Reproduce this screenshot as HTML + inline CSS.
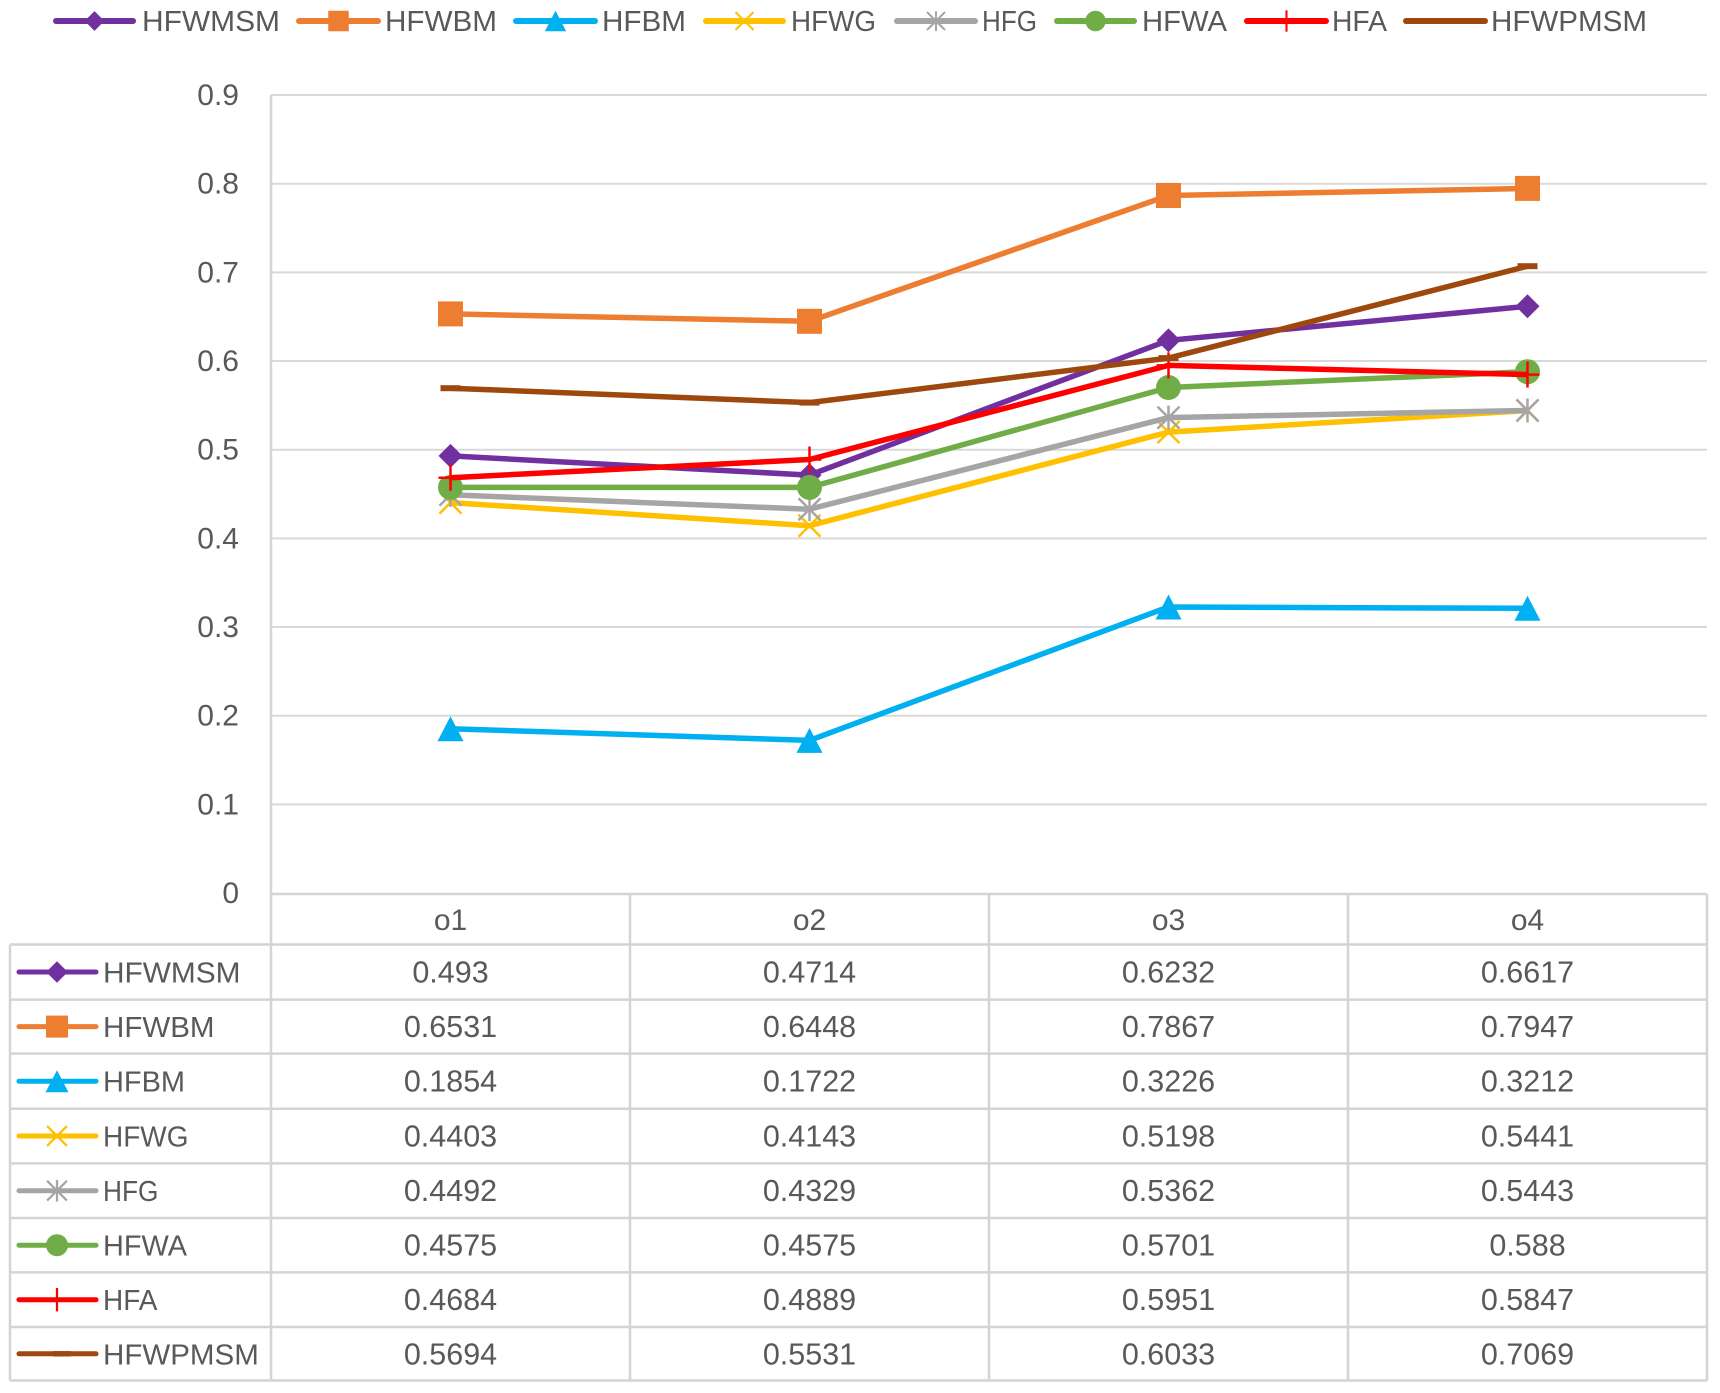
<!DOCTYPE html>
<html><head><meta charset="utf-8"><style>
html,body{margin:0;padding:0;background:#fff;}
svg{display:block;}
text{font-family:"Liberation Sans",Arial,sans-serif;fill:#595959;}
</style></head><body>
<svg width="1720" height="1393" viewBox="0 0 1720 1393" xmlns="http://www.w3.org/2000/svg">
<defs>
<polygon id="mD" points="0,-12 12,0 0,12 -12,0" fill="#7030A0"/>
<rect id="mS" x="-12.5" y="-12.5" width="25" height="25" fill="#ED7D31"/>
<polygon id="mT" points="0,-12.5 13,12.5 -13,12.5" fill="#00B0F0"/>
<g id="mX" stroke="#FFC000" stroke-width="2.5"><line x1="-11" y1="-11" x2="11" y2="11"/><line x1="-11" y1="11" x2="11" y2="-11"/></g>
<g id="mR" stroke="#A5A5A5" stroke-width="2.5"><line x1="-11" y1="-11" x2="11" y2="11"/><line x1="-11" y1="11" x2="11" y2="-11"/><line x1="0" y1="-12" x2="0" y2="12"/></g>
<circle id="mC" r="12.5" fill="#70AD47"/>
<g id="mP" stroke="#FF0000" stroke-width="2.5"><line x1="-12" y1="0" x2="12" y2="0"/><line x1="0" y1="-13" x2="0" y2="13"/></g>
<rect id="mB" x="-10" y="-3" width="20" height="6" fill="#9E480E"/>
</defs>

<!-- gridlines -->
<g stroke="#D9D9D9" stroke-width="2">
<line x1="271" y1="95" x2="1707" y2="95"/>
<line x1="271" y1="183.7" x2="1707" y2="183.7"/>
<line x1="271" y1="272.4" x2="1707" y2="272.4"/>
<line x1="271" y1="361" x2="1707" y2="361"/>
<line x1="271" y1="449.7" x2="1707" y2="449.7"/>
<line x1="271" y1="538.4" x2="1707" y2="538.4"/>
<line x1="271" y1="627" x2="1707" y2="627"/>
<line x1="271" y1="715.7" x2="1707" y2="715.7"/>
<line x1="271" y1="804.4" x2="1707" y2="804.4"/>
</g>

<!-- table lines -->
<g stroke="#D4D4D4" stroke-width="2.5">
<line x1="271" y1="894" x2="1707" y2="894"/>
<line x1="10" y1="944.5" x2="1707" y2="944.5"/>
<line x1="10" y1="999.6" x2="1707" y2="999.6"/>
<line x1="10" y1="1053.6" x2="1707" y2="1053.6"/>
<line x1="10" y1="1108.7" x2="1707" y2="1108.7"/>
<line x1="10" y1="1163.4" x2="1707" y2="1163.4"/>
<line x1="10" y1="1218" x2="1707" y2="1218"/>
<line x1="10" y1="1272.4" x2="1707" y2="1272.4"/>
<line x1="10" y1="1327" x2="1707" y2="1327"/>
<line x1="10" y1="1380.5" x2="1707" y2="1380.5"/>
<line x1="10" y1="944.5" x2="10" y2="1380.5"/>
<line x1="271" y1="95" x2="271" y2="1380.5"/>
<line x1="630" y1="894" x2="630" y2="1380.5"/>
<line x1="989" y1="894" x2="989" y2="1380.5"/>
<line x1="1348" y1="894" x2="1348" y2="1380.5"/>
<line x1="1707" y1="894" x2="1707" y2="1380.5"/>
</g>

<!-- y axis labels -->
<g font-size="30" text-anchor="end">
<text x="239" y="105">0.9</text>
<text x="239" y="193.7">0.8</text>
<text x="239" y="282.4">0.7</text>
<text x="239" y="371">0.6</text>
<text x="239" y="459.7">0.5</text>
<text x="239" y="548.4">0.4</text>
<text x="239" y="637">0.3</text>
<text x="239" y="725.7">0.2</text>
<text x="239" y="814.4">0.1</text>
<text x="239" y="903">0</text>
</g>

<!-- series -->
<g fill="none" stroke-width="5.5" stroke-linejoin="round" stroke-linecap="round">
<polyline stroke="#7030A0" points="450.5,455.9 809.5,475.1 1168.5,340.4 1527.5,306.3"/>
</g>
<use href="#mD" x="450.5" y="455.9"/><use href="#mD" x="809.5" y="475.1"/><use href="#mD" x="1168.5" y="340.4"/><use href="#mD" x="1527.5" y="306.3"/>
<polyline fill="none" stroke-width="5.5" stroke-linejoin="round" stroke="#ED7D31" points="450.5,313.9 809.5,321.3 1168.5,195.5 1527.5,188.4"/>
<use href="#mS" x="450.5" y="313.9"/><use href="#mS" x="809.5" y="321.3"/><use href="#mS" x="1168.5" y="195.5"/><use href="#mS" x="1527.5" y="188.4"/>
<polyline fill="none" stroke-width="5.5" stroke-linejoin="round" stroke="#00B0F0" points="450.5,728.7 809.5,740.4 1168.5,607 1527.5,608.3"/>
<use href="#mT" x="450.5" y="728.7"/><use href="#mT" x="809.5" y="740.4"/><use href="#mT" x="1168.5" y="607"/><use href="#mT" x="1527.5" y="608.3"/>
<polyline fill="none" stroke-width="5.5" stroke-linejoin="round" stroke="#FFC000" points="450.5,502.6 809.5,525.7 1168.5,432.1 1527.5,410.6"/>
<use href="#mX" x="450.5" y="502.6"/><use href="#mX" x="809.5" y="525.7"/><use href="#mX" x="1168.5" y="432.1"/><use href="#mX" x="1527.5" y="410.6"/>
<polyline fill="none" stroke-width="5.5" stroke-linejoin="round" stroke="#A5A5A5" points="450.5,494.8 809.5,509.2 1168.5,417.6 1527.5,410.4"/>
<use href="#mR" x="450.5" y="494.8"/><use href="#mR" x="809.5" y="509.2"/><use href="#mR" x="1168.5" y="417.6"/><use href="#mR" x="1527.5" y="410.4"/>
<polyline fill="none" stroke-width="5.5" stroke-linejoin="round" stroke="#70AD47" points="450.5,487.4 809.5,487.4 1168.5,387.5 1527.5,371.7"/>
<use href="#mC" x="450.5" y="487.4"/><use href="#mC" x="809.5" y="487.4"/><use href="#mC" x="1168.5" y="387.5"/><use href="#mC" x="1527.5" y="371.7"/>
<polyline fill="none" stroke-width="5.5" stroke-linejoin="round" stroke="#FF0000" points="450.5,477.7 809.5,459.5 1168.5,365.4 1527.5,374.6"/>
<use href="#mP" x="450.5" y="477.7"/><use href="#mP" x="809.5" y="459.5"/><use href="#mP" x="1168.5" y="365.4"/><use href="#mP" x="1527.5" y="374.6"/>
<polyline fill="none" stroke-width="5.5" stroke-linejoin="round" stroke-linecap="round" stroke="#9E480E" points="450.5,388.2 809.5,402.6 1168.5,358.1 1527.5,266.2"/>
<use href="#mB" x="450.5" y="388.2"/><use href="#mB" x="809.5" y="402.6"/><use href="#mB" x="1168.5" y="358.1"/><use href="#mB" x="1527.5" y="266.2"/>

<!-- top legend -->
<g stroke-width="6" stroke-linecap="round">
<line x1="56" y1="21" x2="133" y2="21" stroke="#7030A0"/>
<line x1="299" y1="21" x2="378" y2="21" stroke="#ED7D31"/>
<line x1="516" y1="21" x2="595" y2="21" stroke="#00B0F0"/>
<line x1="706" y1="21" x2="783" y2="21" stroke="#FFC000"/>
<line x1="897" y1="21" x2="975" y2="21" stroke="#A5A5A5"/>
<line x1="1057" y1="21" x2="1134" y2="21" stroke="#70AD47"/>
<line x1="1247" y1="21" x2="1326" y2="21" stroke="#FF0000"/>
<line x1="1406" y1="21" x2="1485" y2="21" stroke="#9E480E"/>
</g>
<use href="#mD" transform="translate(94.5,21) scale(0.82)"/>
<use href="#mS" transform="translate(338.5,21) scale(0.82)"/>
<use href="#mT" transform="translate(555.5,21) scale(0.82)"/>
<use href="#mX" transform="translate(744.5,21) scale(0.82)"/>
<use href="#mR" transform="translate(936,21) scale(0.82)"/>
<use href="#mC" transform="translate(1095.5,21) scale(0.82)"/>
<use href="#mP" transform="translate(1286.5,21) scale(0.82)"/>
<g font-size="29" lengthAdjust="spacingAndGlyphs">
<text x="142" y="31" textLength="138" lengthAdjust="spacingAndGlyphs">HFWMSM</text>
<text x="385" y="31" textLength="112" lengthAdjust="spacingAndGlyphs">HFWBM</text>
<text x="602" y="31" textLength="84" lengthAdjust="spacingAndGlyphs">HFBM</text>
<text x="791" y="31" textLength="85" lengthAdjust="spacingAndGlyphs">HFWG</text>
<text x="982" y="31" textLength="55" lengthAdjust="spacingAndGlyphs">HFG</text>
<text x="1142" y="31" textLength="85" lengthAdjust="spacingAndGlyphs">HFWA</text>
<text x="1332" y="31" textLength="55" lengthAdjust="spacingAndGlyphs">HFA</text>
<text x="1491" y="31" textLength="156" lengthAdjust="spacingAndGlyphs">HFWPMSM</text>
</g>

<!-- table header -->
<g font-size="30" text-anchor="middle">
<text x="450.5" y="930">o1</text>
<text x="809.5" y="930">o2</text>
<text x="1168.5" y="930">o3</text>
<text x="1527.5" y="930">o4</text>
</g>

<!-- table row legend keys -->
<g stroke-width="5" stroke-linecap="round">
<line x1="19" y1="972" x2="96" y2="972" stroke="#7030A0"/>
<line x1="19" y1="1026.6" x2="96" y2="1026.6" stroke="#ED7D31"/>
<line x1="19" y1="1081.2" x2="96" y2="1081.2" stroke="#00B0F0"/>
<line x1="19" y1="1136" x2="96" y2="1136" stroke="#FFC000"/>
<line x1="19" y1="1190.7" x2="96" y2="1190.7" stroke="#A5A5A5"/>
<line x1="19" y1="1245.2" x2="96" y2="1245.2" stroke="#70AD47"/>
<line x1="19" y1="1299.7" x2="96" y2="1299.7" stroke="#FF0000"/>
<line x1="19" y1="1353.8" x2="96" y2="1353.8" stroke="#9E480E"/>
</g>
<use href="#mD" transform="translate(57,972) scale(0.9)"/>
<use href="#mS" transform="translate(57,1026.6) scale(0.88)"/>
<use href="#mT" transform="translate(57,1081.2) scale(0.88)"/>
<use href="#mX" transform="translate(57,1136) scale(0.9)"/>
<use href="#mR" transform="translate(57,1190.7) scale(0.9)"/>
<use href="#mC" transform="translate(57,1245.2) scale(0.88)"/>
<use href="#mP" transform="translate(57,1299.7) scale(0.9)"/>
<use href="#mB" transform="translate(62,1353.8) scale(0.9)"/>
<g font-size="29">
<text x="103" y="982.5" textLength="137.5" lengthAdjust="spacingAndGlyphs">HFWMSM</text>
<text x="103" y="1037.1" textLength="111.5" lengthAdjust="spacingAndGlyphs">HFWBM</text>
<text x="103" y="1091.7" textLength="82" lengthAdjust="spacingAndGlyphs">HFBM</text>
<text x="103" y="1146.5" textLength="85.5" lengthAdjust="spacingAndGlyphs">HFWG</text>
<text x="103" y="1201.2" textLength="55.4" lengthAdjust="spacingAndGlyphs">HFG</text>
<text x="103" y="1255.7" textLength="84" lengthAdjust="spacingAndGlyphs">HFWA</text>
<text x="103" y="1310.2" textLength="54.4" lengthAdjust="spacingAndGlyphs">HFA</text>
<text x="103" y="1364.3" textLength="155.8" lengthAdjust="spacingAndGlyphs">HFWPMSM</text>
</g>

<!-- table values -->
<g font-size="30.5" text-anchor="middle">
<text x="450.5" y="982.5">0.493</text><text x="809.5" y="982.5">0.4714</text><text x="1168.5" y="982.5">0.6232</text><text x="1527.5" y="982.5">0.6617</text>
<text x="450.5" y="1037.1">0.6531</text><text x="809.5" y="1037.1">0.6448</text><text x="1168.5" y="1037.1">0.7867</text><text x="1527.5" y="1037.1">0.7947</text>
<text x="450.5" y="1091.7">0.1854</text><text x="809.5" y="1091.7">0.1722</text><text x="1168.5" y="1091.7">0.3226</text><text x="1527.5" y="1091.7">0.3212</text>
<text x="450.5" y="1146.5">0.4403</text><text x="809.5" y="1146.5">0.4143</text><text x="1168.5" y="1146.5">0.5198</text><text x="1527.5" y="1146.5">0.5441</text>
<text x="450.5" y="1201.2">0.4492</text><text x="809.5" y="1201.2">0.4329</text><text x="1168.5" y="1201.2">0.5362</text><text x="1527.5" y="1201.2">0.5443</text>
<text x="450.5" y="1255.7">0.4575</text><text x="809.5" y="1255.7">0.4575</text><text x="1168.5" y="1255.7">0.5701</text><text x="1527.5" y="1255.7">0.588</text>
<text x="450.5" y="1310.2">0.4684</text><text x="809.5" y="1310.2">0.4889</text><text x="1168.5" y="1310.2">0.5951</text><text x="1527.5" y="1310.2">0.5847</text>
<text x="450.5" y="1364.3">0.5694</text><text x="809.5" y="1364.3">0.5531</text><text x="1168.5" y="1364.3">0.6033</text><text x="1527.5" y="1364.3">0.7069</text>
</g>
</svg>
</body></html>
